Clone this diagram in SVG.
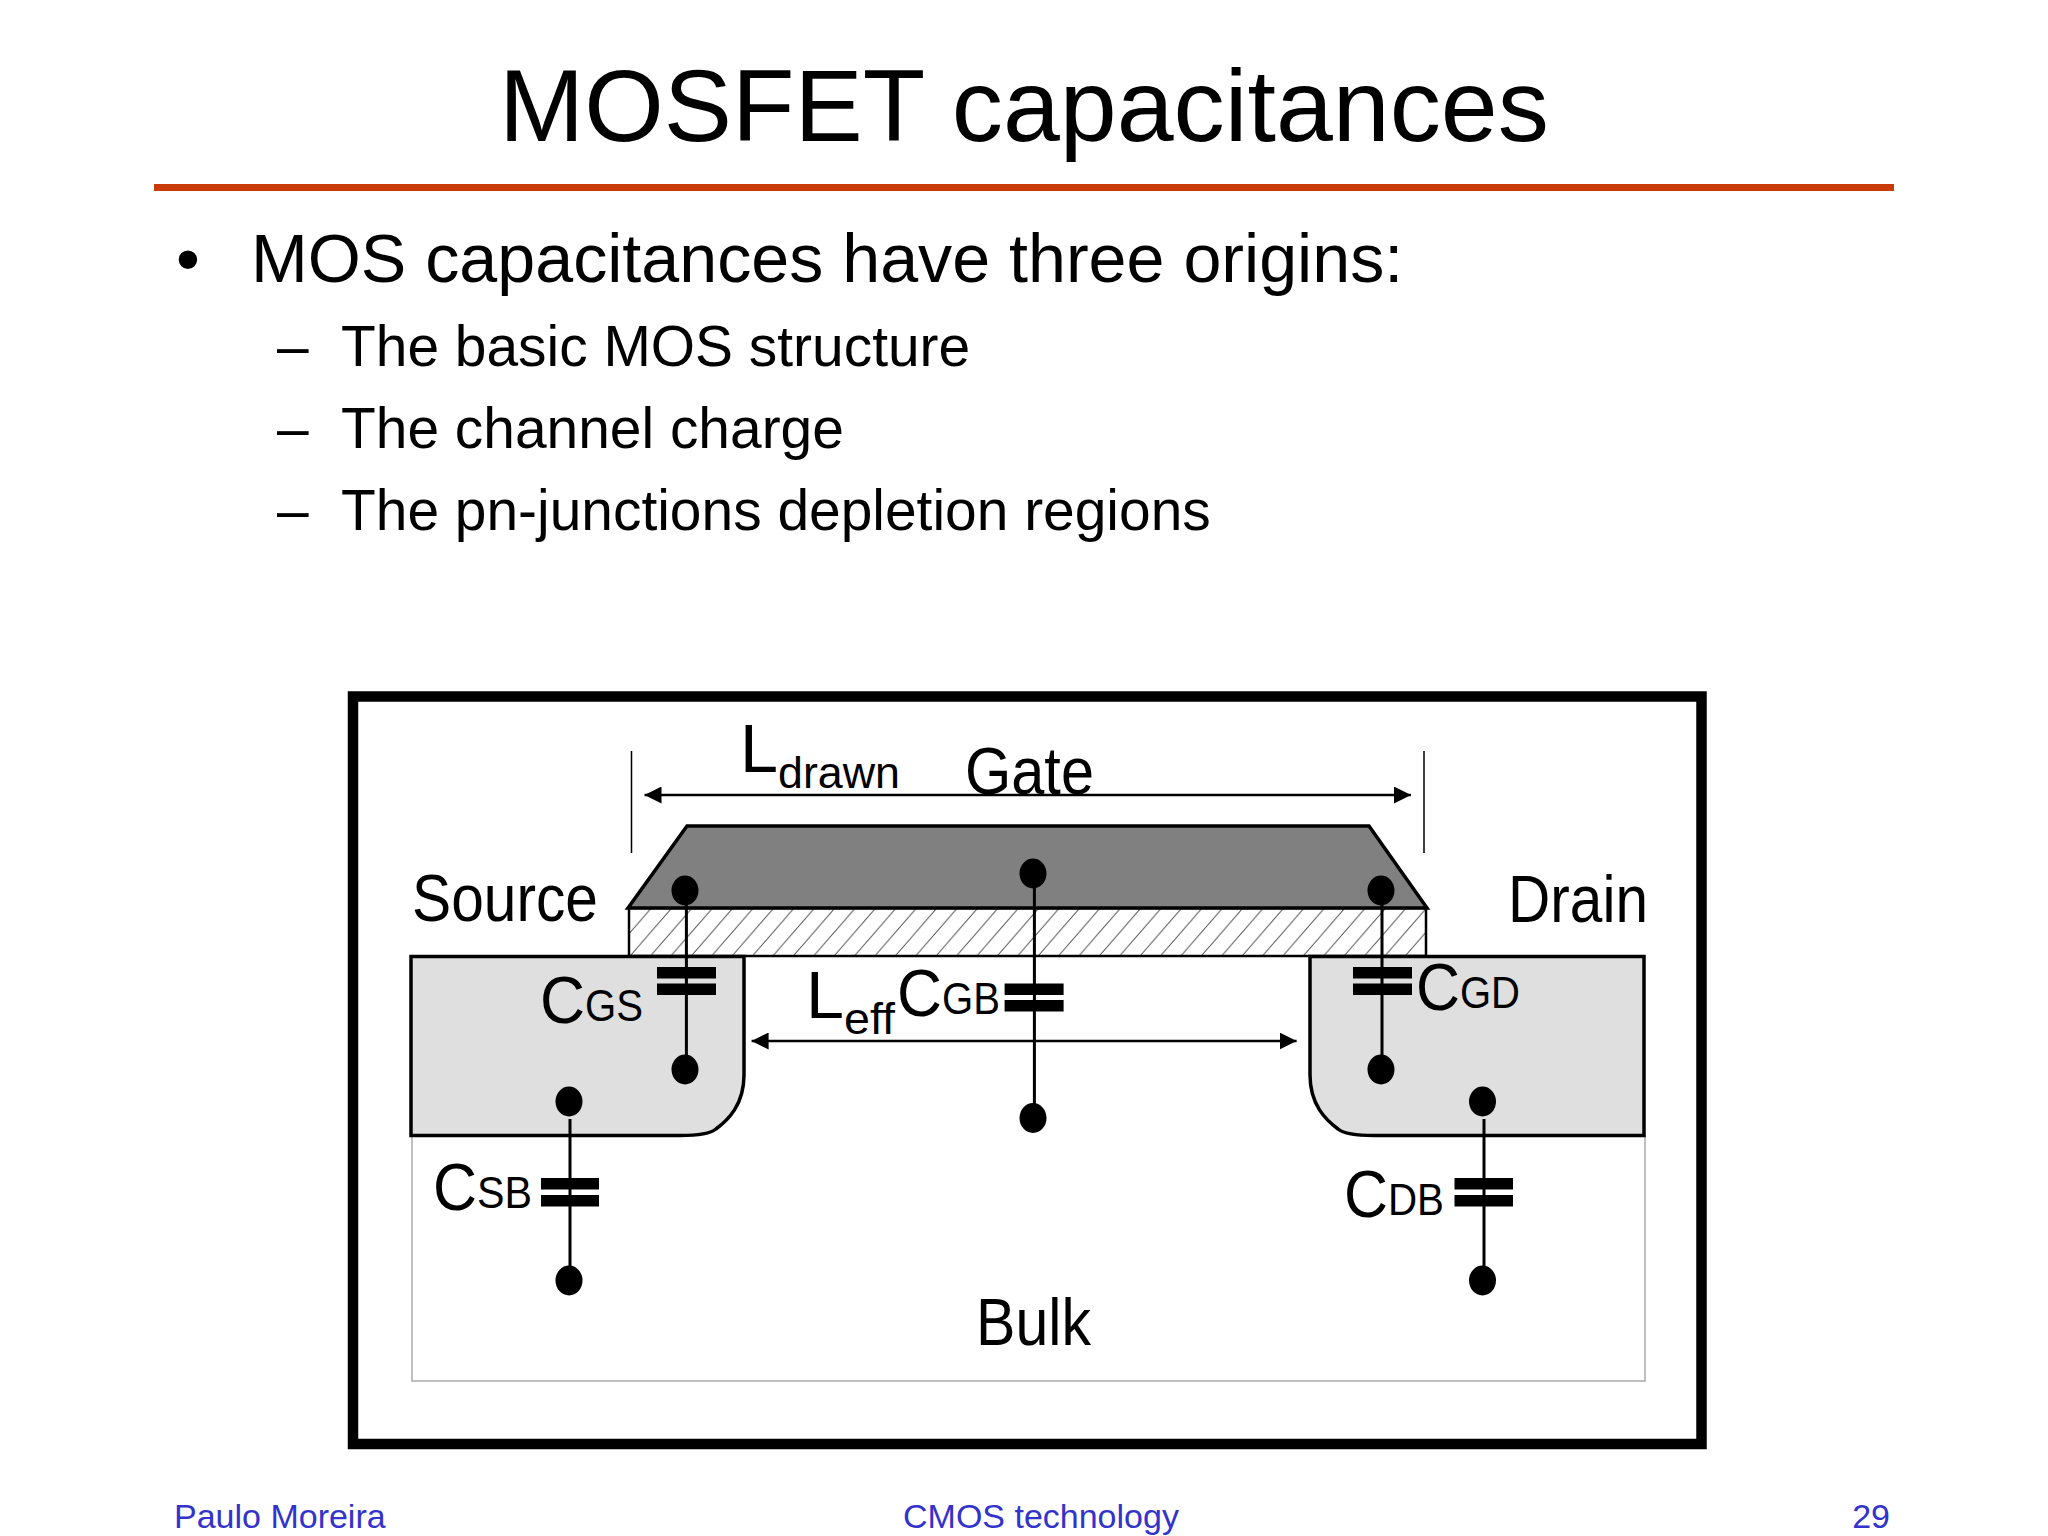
<svg xmlns="http://www.w3.org/2000/svg" width="2048" height="1536" viewBox="0 0 2048 1536">
<style>
text{font-family:"Liberation Sans",Arial,sans-serif;fill:#000}
.foot{font-size:34px;fill:#3333cc}
.sub{font-size:56.9px}
.big{font-size:67px}
.small{font-size:45px}
.wire{stroke:#000;stroke-width:3;fill:none}
.plate{fill:#000}
.dot{fill:#000}
</style>
<defs>
<pattern id="hatch" patternUnits="userSpaceOnUse" x="629" y="908" width="20.4" height="48">
<path d="M1,48L42.8,0M-19.4,48L22.4,0M-39.8,48L2,0" stroke="#555" stroke-width="1" fill="none"/>
</pattern>
<marker id="ah" markerUnits="userSpaceOnUse" markerWidth="17" markerHeight="17" refX="17" refY="8.5" orient="auto-start-reverse">
<path d="M0,0L17,8.5L0,17Z" fill="#000"/>
</marker>
</defs>
<rect width="2048" height="1536" fill="#fff"/>
<text x="499" y="141" font-size="102.3">MOSFET capacitances</text>
<rect x="154" y="184" width="1740" height="7" fill="#c83a08"/>
<text x="176" y="282" font-size="68.2">•</text>
<text x="251" y="282" font-size="68.2">MOS capacitances have three origins:</text>
<text x="277" y="366" class="sub">–</text><text x="341" y="366" class="sub">The basic MOS structure</text>
<text x="277" y="448" class="sub">–</text><text x="341" y="448" class="sub">The channel charge</text>
<text x="277" y="530" class="sub">–</text><text x="341" y="530" class="sub">The pn-junctions depletion regions</text>
<g id="frame"><rect x="353" y="696.5" width="1348.5" height="747.5" fill="none" stroke="#000" stroke-width="10.5"/></g>
<g id="bulk"><path d="M412,1135V1381H1645V1135" fill="#fff" stroke="#aaa" stroke-width="1.5"/>
<text x="976" y="1345" class="big" textLength="115" lengthAdjust="spacingAndGlyphs">Bulk</text></g>
<g id="source"><path d="M411,956.5H744V1075C744,1105 728,1120 716,1129C710,1134 695,1135.500 680,1135.500H411Z" fill="#dfdfdf" stroke="#000" stroke-width="3.500"/>
<text x="412" y="921" class="big" textLength="186" lengthAdjust="spacingAndGlyphs">Source</text></g>
<g id="drain"><path d="M1644,956.5H1310V1075C1310,1105 1326,1120 1338,1129C1344,1134 1359,1135.500 1374,1135.500H1644Z" fill="#dfdfdf" stroke="#000" stroke-width="3.500"/>
<text x="1508" y="922" class="big" textLength="140" lengthAdjust="spacingAndGlyphs">Drain</text></g>
<g id="oxide"><rect x="629" y="908" width="797" height="48" fill="url(#hatch)" stroke="#000" stroke-width="2.5"/></g>
<g id="gate"><path d="M628,908L687,826H1369L1427,908Z" fill="#808080" stroke="#000" stroke-width="3.500"/>
<text x="965" y="794" class="big" textLength="129" lengthAdjust="spacingAndGlyphs">Gate</text></g>
<g id="connectors">
<path class="wire" d="M631.5,751V853M1424,751V853" style="stroke-width:1.5"/>
<path class="wire" d="M644.5,795H1411" marker-start="url(#ah)" marker-end="url(#ah)" style="stroke-width:2.5"/>
<path class="wire" d="M751.6,1041H1296.6" marker-start="url(#ah)" marker-end="url(#ah)" style="stroke-width:2.5"/>
<path class="wire" d="M686.4,890V1069M1034.4,873V1118M1382,890V1069M570,1119V1280M1484,1119V1280"/>
</g>
<g id="cgs"><rect class="plate" x="657" y="967" width="59" height="11.5"/><rect class="plate" x="657" y="983.5" width="59" height="11.5"/>
<ellipse class="dot" cx="685" cy="890.5" rx="13.5" ry="15"/><ellipse class="dot" cx="685" cy="1069.5" rx="13.5" ry="15"/>
<text x="540" y="1023" class="big" textLength="45" lengthAdjust="spacingAndGlyphs">C</text><text x="585" y="1021" class="small" textLength="58" lengthAdjust="spacingAndGlyphs">GS</text></g>
<g id="cgb"><rect class="plate" x="1004.6" y="983.5" width="59" height="11.5"/><rect class="plate" x="1004.6" y="1000" width="59" height="11.5"/>
<ellipse class="dot" cx="1033" cy="873.5" rx="13.5" ry="15"/><ellipse class="dot" cx="1033" cy="1118" rx="13.5" ry="15"/>
<text x="897" y="1016" class="big" textLength="45" lengthAdjust="spacingAndGlyphs">C</text><text x="942" y="1014" class="small" textLength="58" lengthAdjust="spacingAndGlyphs">GB</text></g>
<g id="cgd"><rect class="plate" x="1353" y="967" width="59" height="11.5"/><rect class="plate" x="1353" y="983.5" width="59" height="11.5"/>
<ellipse class="dot" cx="1381" cy="890.5" rx="13.5" ry="15"/><ellipse class="dot" cx="1381" cy="1069.5" rx="13.5" ry="15"/>
<text x="1416" y="1010" class="big" textLength="44" lengthAdjust="spacingAndGlyphs">C</text><text x="1460" y="1008" class="small" textLength="60" lengthAdjust="spacingAndGlyphs">GD</text></g>
<g id="csb"><rect class="plate" x="541" y="1178" width="58" height="11.5"/><rect class="plate" x="541" y="1195" width="58" height="11.5"/>
<ellipse class="dot" cx="569" cy="1101.5" rx="13.5" ry="15"/><ellipse class="dot" cx="569" cy="1280.5" rx="13.5" ry="15"/>
<text x="433" y="1210" class="big" textLength="44" lengthAdjust="spacingAndGlyphs">C</text><text x="477" y="1208" class="small" textLength="55" lengthAdjust="spacingAndGlyphs">SB</text></g>
<g id="cdb"><rect class="plate" x="1454.5" y="1178" width="58.5" height="11.5"/><rect class="plate" x="1454.5" y="1195" width="58.5" height="11.5"/>
<ellipse class="dot" cx="1482.5" cy="1101.5" rx="13.5" ry="15"/><ellipse class="dot" cx="1482.5" cy="1280.5" rx="13.5" ry="15"/>
<text x="1344" y="1217" class="big" textLength="44" lengthAdjust="spacingAndGlyphs">C</text><text x="1388" y="1215" class="small" textLength="56" lengthAdjust="spacingAndGlyphs">DB</text></g>
<g id="ldrawn"><text x="740" y="772" font-size="68" textLength="38" lengthAdjust="spacingAndGlyphs">L</text><text x="778" y="788" class="small" textLength="122" lengthAdjust="spacingAndGlyphs">drawn</text></g>
<g id="leff"><text x="806" y="1018" class="big" textLength="38" lengthAdjust="spacingAndGlyphs">L</text><text x="844" y="1034" class="small" textLength="51" lengthAdjust="spacingAndGlyphs">eff</text></g>
<text x="174" y="1528" class="foot">Paulo Moreira</text>
<text x="903" y="1528" class="foot">CMOS technology</text>
<text x="1890" y="1528" class="foot" text-anchor="end">29</text>
</svg>
